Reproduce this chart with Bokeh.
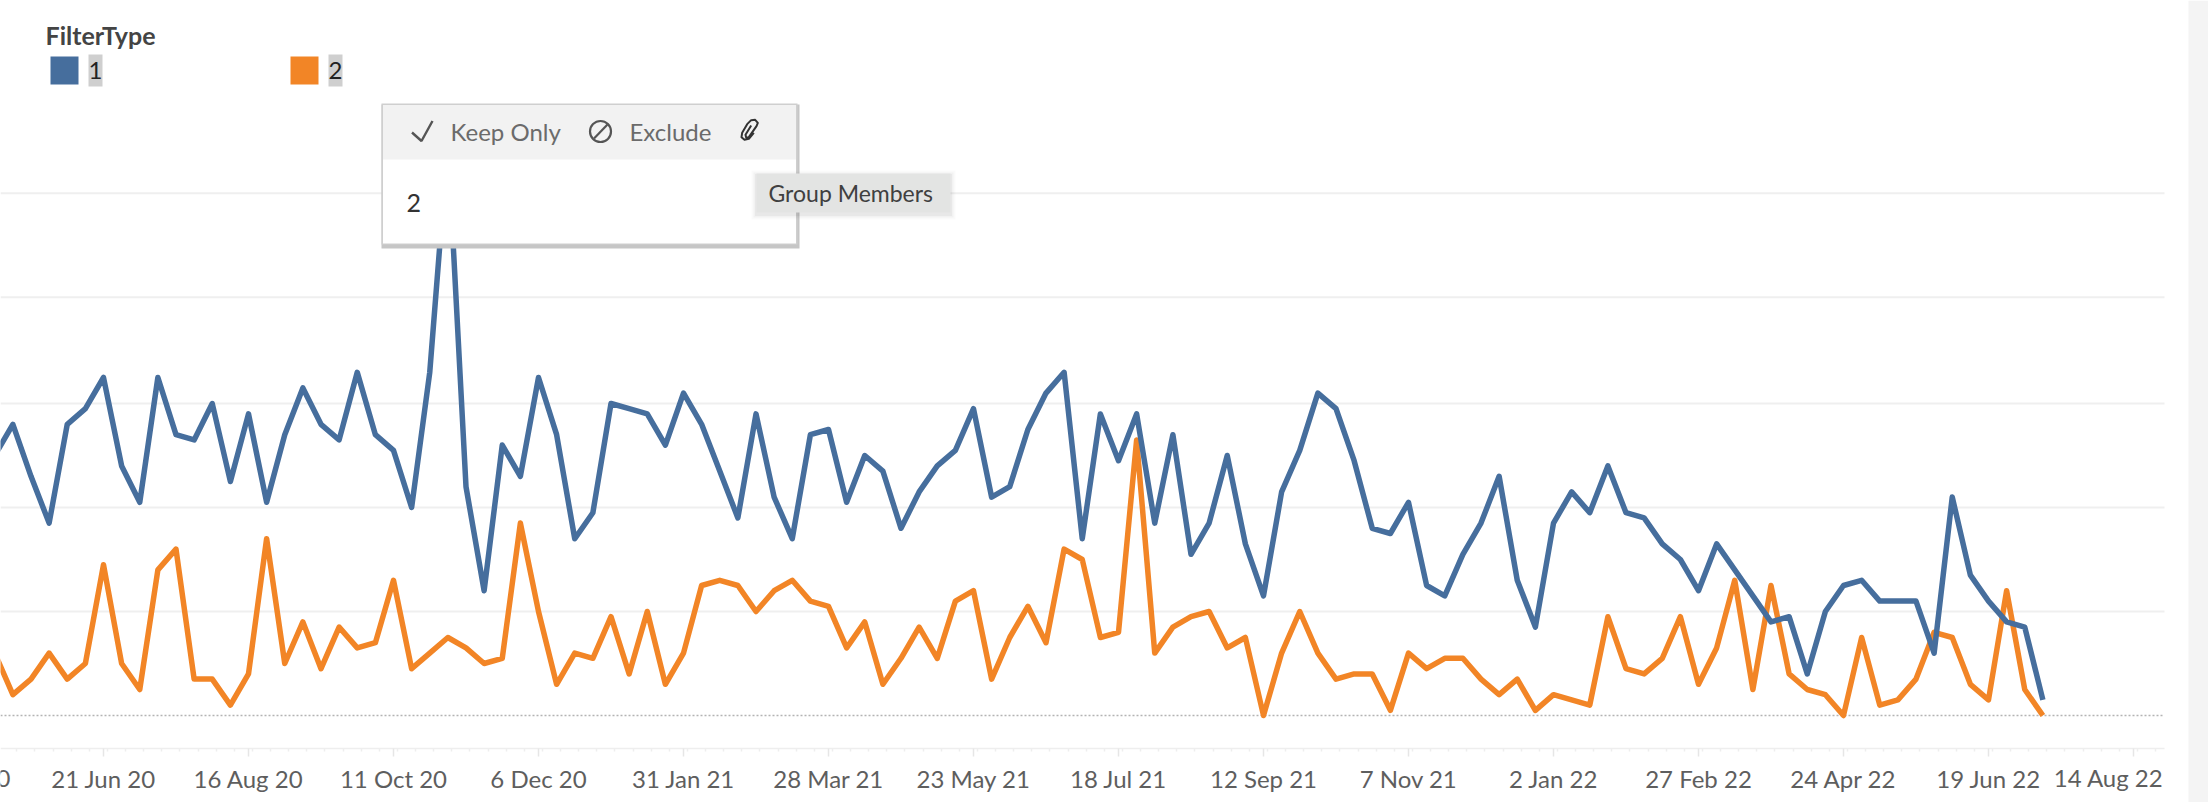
from bokeh.plotting import figure
from bokeh.models import Range1d, LinearAxis, FixedTicker, ColumnDataSource
from bokeh.core.properties import value
from bokeh.embed import file_html
from bokeh.resources import INLINE

# ---- data (week number 0 = 21 Jun 20) ----
weeks = list(range(-6, 108))
series_1 = [50, 56, 46, 37, 56, 59, 65, 48, 41, 65, 54, 53, 60, 45, 58, 41, 54, 63, 56, 53,
            66, 54, 51, 40, 66, 110, 44, 24, 52, 46, 65, 54, 34, 39, 60, 59, 58, 52, 62, 56, 47, 38,
            58, 42, 34, 54, 55, 41, 50, 47, 36, 43, 48, 51, 59, 42, 44, 55, 62, 66, 34, 58, 49, 58,
            37, 54, 31, 37, 50, 33, 23, 43, 51, 62, 59, 49, 36, 35, 41, 25, 23, 31,
            37, 46, 26, 17, 37, 43, 39, 48, 39, 38, 33, 30, 24, 33, 28, 23, 18, 19, 8, 20, 25, 26,
            22, 22, 22, 12, 42, 27, 22, 18, 17, 3]
series_2 = [12, 4, 7, 12, 7, 10, 29, 10, 5, 28, 32, 7, 7, 2, 8, 34, 10, 18, 9, 17, 13, 14, 26, 9,
            12, 15, 13, 10, 11, 37, 20, 6, 12, 11, 19, 8, 20, 6, 12, 25, 26, 25,
            20, 24, 26, 22, 21, 13, 18, 6, 11, 17, 11, 22, 24, 7, 15, 21, 14, 32, 30, 15, 16, 53,
            12, 17, 19, 20, 13, 15, 0, 12, 20, 12, 7, 8, 8, 1, 12, 9, 11, 11,
            7, 4, 7, 1, 4, 3, 2, 19, 9, 8, 11, 19, 6, 13, 26, 5, 25, 8, 5, 4, 0, 15, 2, 3, 7, 16,
            15, 6, 3, 24, 5, 0]
tick_weeks = [0, 8, 16, 24, 32, 40, 48, 56, 64, 72, 80, 88, 96, 104, 112]
tick_labels = ["21 Jun 20", "16 Aug 20", "11 Oct 20", "6 Dec 20", "31 Jan 21", "28 Mar 21",
               "23 May 21", "18 Jul 21", "12 Sep 21", "7 Nov 21", "2 Jan 22", "27 Feb 22",
               "24 Apr 22", "19 Jun 22", ""]
first_label = "26 Apr 20"
last_label = "14 Aug 22"
grid_values = [20, 40, 60, 80.45, 100.45]
legend_title = "FilterType"
legend_labels = ["1", "2"]

BLUE = "#466e9d"
ORANGE = "#f28526"
FONT = "Lato"
TICK_SIZE = "24px"

# ---- screen geometry ----
PX_PER_WEEK = 18.125
X0 = 103.0      # screen x of week 0
Y0 = 715.0      # screen y of value 0
PX_PER_UNIT = 5.2
W, H = 2208, 802
def wk(px):
    return (px - X0) / PX_PER_WEEK
def val(py):
    return (Y0 - py) / PX_PER_UNIT

p = figure(width=W, height=H, output_backend="svg", toolbar_location=None,
           x_range=Range1d(wk(0), wk(W)), y_range=Range1d(val(H), val(0)),
           x_axis_location=None, y_axis_location=None,
           min_border=0, min_border_left=0, min_border_right=0, min_border_top=0, min_border_bottom=0,
           outline_line_color=None, background_fill_color="white", border_fill_color="white")
p.grid.visible = False
p.extra_x_ranges = {"px": Range1d(0, W)}
p.extra_y_ranges = {"px": Range1d(H, 0)}
PX = dict(x_range_name="px", y_range_name="px")

def box(l, t, r, b, color, alpha=1.0):
    p.quad(left=[l], right=[r], top=[t], bottom=[b], fill_color=color, fill_alpha=alpha,
           line_color=None, **PX)

def label(x, y, s, size, color, align="left", style="normal"):
    p.text(x=[x], y=[y], text=[s], text_font=value(FONT), text_font_size=f"{size}px", text_color=color,
           text_align=align, text_baseline="middle", text_font_style=style, **PX)

# right-hand page band
box(2188, 0, 2208, 802, "#f4f4f4")

# grid
x_end = wk(2164)
x_start = wk(0)
p.segment(x0=[x_start] * len(grid_values), x1=[x_end] * len(grid_values), y0=grid_values, y1=grid_values,
          line_color="#efefef", line_width=2)
p.line(x=[x_start, x_end], y=[0, 0], line_color="#b4b4b4", line_width=1.5, line_dash=[2, 2])

# axis
minor = [w + 0.22 for w in range(-6, 114)]
axis = LinearAxis(ticker=FixedTicker(ticks=tick_weeks, minor_ticks=minor),
                  major_label_overrides=dict(zip(tick_weeks, tick_labels)),
                  fixed_location=val(747.7), bounds=(x_start, x_end),
                  axis_line_color="#eeeeee", axis_line_width=1.5,
                  major_tick_line_color="#e6e6e6", major_tick_line_width=1.5,
                  major_tick_out=8, major_tick_in=0,
                  minor_tick_line_color="#eeeeee", minor_tick_line_width=1.5,
                  minor_tick_out=3, minor_tick_in=0,
                  major_label_text_font=FONT, major_label_text_font_size=TICK_SIZE,
                  major_label_text_color="#5e5e5e", major_label_standoff=8)
p.add_layout(axis, "below")
label(2163, 777, last_label, 24, "#5e5e5e", align="right")
p.text(x=[-8], y=[val(777)], text=[first_label], text_font=value(FONT), text_font_size=TICK_SIZE,
       text_color="#5e5e5e", text_align="center", text_baseline="middle")

# lines
src = ColumnDataSource(dict(week=weeks, s1=series_1, s2=series_2))
p.line("week", "s2", source=src, line_color=ORANGE, line_width=5.5, line_join="round")
p.line("week", "s1", source=src, line_color=BLUE, line_width=5.5, line_join="round")

# legend
label(45, 34, legend_title, 25, "#444444", style="bold")
box(50, 56, 78, 84, BLUE)
box(88, 54, 102, 86, "#cfcfcf")
label(95, 70, legend_labels[0], 24, "#222222", align="center")
box(290, 56, 318, 84, ORANGE)
box(328, 54, 342, 86, "#cfcfcf")
label(335, 70, legend_labels[1], 24, "#222222", align="center")

# selection pop-up
box(381, 104, 799, 248, "#c6c6c6")
box(381, 103, 797, 244, "#cfcfcf")
box(382.5, 104.5, 795.5, 243, "#ffffff")
box(382.5, 104.5, 795.5, 159, "#f2f2f2")
p.line(x=[411.5, 421, 432], y=[132, 140.5, 120.5], line_color="#555555", line_width=2.4, **PX)
label(450, 131, "Keep Only", 24, "#6b6b6b")
p.scatter(x=[600], y=[131], size=21, marker="circle", fill_color=None, line_color="#555555",
          line_width=2.2, **PX)
p.line(x=[593.5, 607], y=[138, 124], line_color="#555555", line_width=2.2, **PX)
label(629, 131, "Exclude", 24, "#6b6b6b")
clip = [(62, 60), (45, 88), (47, 96), (55, 95), (78, 62), (82, 52), (74, 43), (62, 44), (50, 56),
        (35, 82), (33, 95), (42, 103), (55, 100), (70, 82)]
p.line(x=[730 + c[0] / 3 for c in clip], y=[105 + c[1] / 3 for c in clip], line_color="#333333",
       line_width=2, line_join="round", **PX)
label(406, 202, "2", 25, "#333333")

# tooltip
for k, a in zip((5, 3, 1.5), (0.02, 0.03, 0.04)):
    box(756 - k, 173 - k + 2, 950 + k, 212 + k + 2, "#000000", a)
box(756, 173, 950, 212, "#e3e4e3")
label(768, 192, "Group Members", 23, "#404040")

open("out.html", "w").write(file_html(p, INLINE))
